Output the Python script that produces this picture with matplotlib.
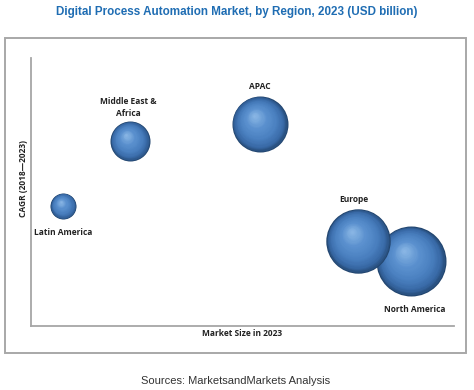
import matplotlib
matplotlib.use('Agg')
import matplotlib.pyplot as plt
import numpy as np
from matplotlib.colors import LinearSegmentedColormap
from matplotlib.patches import Rectangle
from matplotlib.transforms import offset_copy

# regions, drawn back to front (Europe overlaps North America)
regions = ['North America', 'Europe', 'APAC', 'Middle East &\nAfrica', 'Latin America']
market_size = [89.8, 77.3, 54.1, 23.4, 7.6]     # relative position on x
cagr = [24.3, 31.7, 75.4, 69.0, 44.8]           # relative position on y
bubble_size = [2540, 2150, 1626, 829, 350]

# label placement (offset in points from bubble centre)
label_offsets = [(3, -35), (-3, 30), (0, 27), (-1, 24), (0, -19)]

plt.rcParams['font.family'] = ['Open Sans', 'DejaVu Sans']

fig = plt.figure(figsize=(4.74, 3.9), dpi=100)
ax = fig.add_axes([31 / 474, 1 - 326 / 390, 423 / 474, 268 / 390])

# outer frame
fig.patches.append(Rectangle((5 / 474, 1 - 353 / 390), 461 / 474, 315 / 390,
                             transform=fig.transFigure, fill=False,
                             edgecolor='#a8a8a8', linewidth=1.4))

sphere = LinearSegmentedColormap.from_list(
    'sphere', ['#22456e', '#3869a6', '#4a80c0', '#5b91cf', '#8db9e6'])

n = 30
for x, y, s in zip(market_size, cagr, bubble_size):
    r = np.sqrt(s) / 2
    for k in range(n):
        t = k / n
        frac = 1 - t
        trans = offset_copy(ax.transData, fig=fig, x=-0.2 * r * t,
                            y=0.3 * r * t, units='points')
        ax.scatter(x, y, s=s * frac ** 1.8, color=sphere(t ** 0.7),
                   linewidths=0, transform=trans, zorder=2)

for name, x, y, (dx, dy) in zip(regions, market_size, cagr, label_offsets):
    ax.annotate(name, (x, y), xytext=(dx, dy), textcoords='offset points',
                ha='center', va='center', fontsize=6, fontweight='bold',
                color='#222222', linespacing=1.5, zorder=3)

ax.set_xlim(0, 100)
ax.set_ylim(0, 100)
ax.set_xticks([])
ax.set_yticks([])
for side in ['top', 'right']:
    ax.spines[side].set_visible(False)
for side in ['left', 'bottom']:
    ax.spines[side].set_color('#a6a6a6')
    ax.spines[side].set_linewidth(1.3)

ax.set_xlabel('Market Size in 2023', fontsize=6, fontweight='bold',
              color='#222222', labelpad=2)
ax.set_ylabel('CAGR (2018\u20142023)', fontsize=6, fontweight='bold',
              color='#222222')
ax.yaxis.set_label_coords(-0.008, 0.55)

fig.text(237 / 474, 1 - 12 / 390,
         'Digital Process Automation Market, by Region, 2023 (USD billion)',
         ha='center', va='center', fontsize=8.4, fontweight='bold',
         color='#1f6db3', family='Liberation Sans')
fig.text(236 / 474, 1 - 381 / 390, 'Sources: MarketsandMarkets Analysis',
         ha='center', va='center', fontsize=8, color='#333333',
         family='Liberation Sans')

fig.savefig('out.png', dpi=100, facecolor='white')
